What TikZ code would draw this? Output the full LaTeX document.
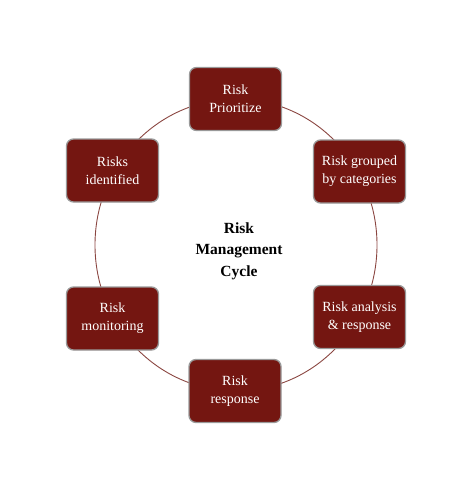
\documentclass[tikz,border=0pt]{standalone}
\usepackage{fontspec}
\setmainfont{Liberation Serif}
\usepackage{xcolor}
\usetikzlibrary{positioning}
\definecolor{boxred}{HTML}{741611}
\definecolor{ringred}{HTML}{8A4540}
\tikzset{stage/.style={draw=black!40, line width=1.3pt, fill=boxred, rounded corners=7pt,
    minimum width=92pt, minimum height=63pt, text=white, align=center, inner sep=2pt,
    font=\fontsize{14}{18}\selectfont}}

\begin{document}
\begin{tikzpicture}[x=1pt, y=-1pt]
                        \useasboundingbox (0, 0) rectangle (474, 500);
                        \draw[ringred, line width=0.9pt] (236, 245) ellipse (141 and 146);
                        \node[stage] (prioritize) at (235.5, 99) {Risk\\Prioritize};
                        \node[stage] (grouped) at (359.5, 171.5) {Risk grouped\\by categories};
                        \node[stage] (analysis) at (359.5, 317) {Risk analysis\\\& response};
                        \node[stage] (response) at (235, 391) {Risk\\response};
                        \node[stage] (monitoring) at (112.5, 318.5) {Risk\\monitoring};
                        \node[stage] (identified) at (112.5, 170.5) {Risks\\identified};
                        \node[align=center, font=\bfseries\fontsize{15.5}{21.5}\selectfont] (cycle) at (239, 251) {Risk\\Management\\Cycle};
                    \end{tikzpicture}
\end{document}
